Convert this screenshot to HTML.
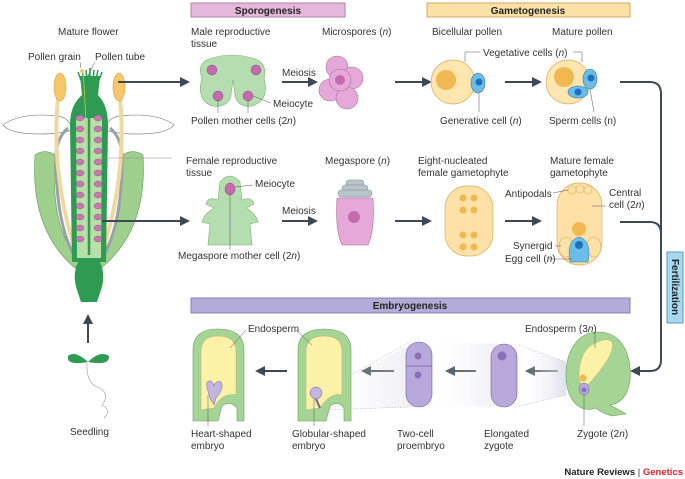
<!DOCTYPE html>
<html><head><meta charset="utf-8"><style>
html,body{margin:0;padding:0;background:#fff}
svg{display:block}
text{font-family:"Liberation Sans",sans-serif;font-size:10px;fill:#333}
.b{font-weight:bold;fill:#222}
</style></head><body>
<svg width="685" height="479" viewBox="0 0 685 479" xmlns="http://www.w3.org/2000/svg">
<defs>
<marker id="ah" viewBox="0 0 10 10" refX="8" refY="5" markerWidth="5" markerHeight="5" orient="auto"><path d="M0,0 L10,5 L0,10 z" fill="#3d4a55"/></marker>
<linearGradient id="fade" x1="1" x2="0" y1="0" y2="0"><stop offset="0" stop-color="#d8d8e8" stop-opacity="0.8"/><stop offset="1" stop-color="#fff" stop-opacity="0"/></linearGradient>
</defs>

<rect x="191" y="3" width="154" height="14" fill="#e4b8da" stroke="#b07fa8"/>
<text x="268" y="14" text-anchor="middle" class="b">Sporogenesis</text>
<rect x="427" y="3" width="203" height="14" fill="#fbe1a6" stroke="#d0a860"/>
<text x="528" y="14" text-anchor="middle" class="b">Gametogenesis</text>
<rect x="191" y="298" width="439" height="15" fill="#b4acd8" stroke="#8a80b8"/>
<text x="410" y="309" text-anchor="middle" class="b">Embryogenesis</text>
<rect x="667" y="252" width="16" height="71" fill="#a6d8ef" stroke="#5a9ac0"/>
<text x="675" y="287" text-anchor="middle" class="b" transform="rotate(90 675 287)" dy="3">Fertilization</text>

<!-- flower -->
<path d="M3,125 Q20,112 58,116 Q70,118 72,130 Q60,134 40,134 Q10,134 3,125z" fill="#fff" stroke="#888" stroke-width="0.7"/>
<path d="M174,125 Q157,112 119,116 Q107,118 105,130 Q117,134 137,134 Q167,134 174,125z" fill="#fff" stroke="#888" stroke-width="0.7"/>
<path d="M35,155 Q30,230 75,268 L80,262 Q50,230 55,155 Q45,148 35,155z" fill="#9fcf8d" stroke="#5a9a50" stroke-width="0.6"/>
<path d="M143,155 Q148,230 101,268 L96,262 Q124,230 123,155 Q133,148 143,155z" fill="#9fcf8d" stroke="#5a9a50" stroke-width="0.6"/>
<path d="M68,128 Q54,140 56,165 Q57,230 78,262" fill="none" stroke="#9aa0a8" stroke-width="3"/>
<path d="M110,128 Q124,140 122,165 Q121,230 100,262" fill="none" stroke="#9aa0a8" stroke-width="3"/>
<path d="M58,98 Q50,180 80,265" fill="none" stroke="#f0d9a0" stroke-width="4"/>
<path d="M120,98 Q128,180 98,265" fill="none" stroke="#f0d9a0" stroke-width="4"/>
<ellipse cx="60" cy="87" rx="6" ry="14" fill="#f7c86a" stroke="#d9a040" stroke-width="0.6"/>
<ellipse cx="119" cy="87" rx="6" ry="14" fill="#f7c86a" stroke="#d9a040" stroke-width="0.6"/>
<path d="M80,76 L100,76 L98,95 Q108,105 108,125 L106,262 L72,262 L70,125 Q70,105 82,95z" fill="#2e9a52"/>
<path d="M76,118 L102,118 L101,258 L77,258z" fill="#b8dfa8"/>
<path d="M78,72 L81,80 M82,70 L84,80 M86,70 L87,80 M90,68 L90,80 M94,70 L93,80 M98,70 L96,80 M102,72 L99,80" stroke="#2e9a52" stroke-width="1.5"/>
<path d="M89,75 L89,255" stroke="#2e9a52" stroke-width="2.5"/>
<path d="M83,72 Q86,110 86,140" stroke="#d9c050" fill="none" stroke-width="0.8"/>
<circle cx="82" cy="71" r="2" fill="#f7c86a"/>
<g fill="#c87ab0" stroke="#7a5070" stroke-width="0.4">
<ellipse cx="80" cy="118" rx="4" ry="3"/><ellipse cx="98" cy="118" rx="4" ry="3"/>
<ellipse cx="80" cy="129" rx="4" ry="3"/><ellipse cx="98" cy="129" rx="4" ry="3"/>
<ellipse cx="80" cy="140" rx="4" ry="3"/><ellipse cx="98" cy="140" rx="4" ry="3"/>
<ellipse cx="80" cy="151" rx="4" ry="3"/><ellipse cx="98" cy="151" rx="4" ry="3"/>
<ellipse cx="80" cy="162" rx="4" ry="3"/><ellipse cx="98" cy="162" rx="4" ry="3"/>
<ellipse cx="80" cy="173" rx="4" ry="3"/><ellipse cx="98" cy="173" rx="4" ry="3"/>
<ellipse cx="80" cy="184" rx="4" ry="3"/><ellipse cx="98" cy="184" rx="4" ry="3"/>
<ellipse cx="80" cy="195" rx="4" ry="3"/><ellipse cx="98" cy="195" rx="4" ry="3"/>
<ellipse cx="80" cy="206" rx="4" ry="3"/><ellipse cx="98" cy="206" rx="4" ry="3"/>
<ellipse cx="80" cy="217" rx="4" ry="3"/><ellipse cx="98" cy="217" rx="4" ry="3"/>
<ellipse cx="80" cy="228" rx="4" ry="3"/><ellipse cx="98" cy="228" rx="4" ry="3"/>
<ellipse cx="80" cy="239" rx="4" ry="3"/><ellipse cx="98" cy="239" rx="4" ry="3"/>
</g>
<path d="M78,262 L100,262 Q106,275 101,290 L97,302 L81,302 L77,290 Q72,275 78,262z" fill="#2e9a52"/>
<text x="58" y="35">Mature flower</text>
<text x="28" y="60">Pollen grain</text>
<text x="95" y="60">Pollen tube</text>
<path d="M80,62 L81,68 M95,62 L88,75" stroke="#555" stroke-width="0.5"/>
<path d="M100,158 L172,158" stroke="#888" stroke-width="0.5"/>
<path d="M88,343 L88,316" stroke="#3d4a55" stroke-width="2" marker-end="url(#ah)"/>
<path d="M88,362 Q75,350 68,356 Q66,366 88,362 Q100,350 109,356 Q110,366 88,362z" fill="#2e9a52"/>
<path d="M87,363 Q86,380 95,386 Q112,392 102,405 Q112,410 104,418" fill="none" stroke="#999" stroke-width="0.6"/>
<text x="70" y="435">Seedling</text>

<g stroke="#3d4a55" stroke-width="2" marker-end="url(#ah)">
<line x1="118" y1="82" x2="188" y2="82"/>
<line x1="282" y1="82" x2="316" y2="82"/>
<line x1="395" y1="82" x2="430" y2="82"/>
<line x1="505" y1="82" x2="540" y2="82"/>
<line x1="102" y1="221" x2="188" y2="221"/>
<line x1="282" y1="221" x2="316" y2="221"/>
<line x1="395" y1="221" x2="430" y2="221"/>
<line x1="505" y1="221" x2="540" y2="221"/>
<line x1="558" y1="371" x2="527" y2="371"/>
<line x1="476" y1="371" x2="447" y2="371"/>
<line x1="394" y1="371" x2="363" y2="371"/>
<line x1="287" y1="371" x2="257" y2="371"/>
</g>
<path d="M620,82 L650,82 Q661,82 661,94 L661,360 Q661,371 650,371 L632,371" fill="none" stroke="#3d4a55" stroke-width="2" marker-end="url(#ah)"/>
<path d="M620,222 L650,222 Q661,222 661,234" fill="none" stroke="#3d4a55" stroke-width="2"/>

<path d="M212,58 Q232,52 252,58 Q268,62 264,78 Q270,100 252,106 Q238,108 235,95 L233,80 L231,95 Q228,108 212,106 Q196,100 202,78 Q196,62 212,58z" fill="#b5deb0" stroke="#7ab070" stroke-width="0.6"/>
<g fill="#c46aae" stroke="#8a4a80" stroke-width="0.5">
<circle cx="212" cy="70" r="5"/><circle cx="256" cy="70" r="5"/><circle cx="218" cy="96" r="5"/><circle cx="248" cy="96" r="5"/></g>
<text x="191" y="35">Male reproductive</text><text x="191" y="47">tissue</text>
<text x="282" y="76">Meiosis</text><text x="273" y="107">Meiocyte</text>
<text x="191" y="124">Pollen mother cells (2<tspan font-style="italic">n</tspan>)</text>
<path d="M218,100 L218,113 M248,100 L248,113 M253,96 L271,103" stroke="#555" stroke-width="0.5"/>
<g fill="#e6a8d8" stroke="#a8709a" stroke-width="0.6">
<circle cx="337" cy="67" r="11"/><circle cx="352" cy="78" r="11"/><circle cx="330" cy="90" r="11"/><circle cx="347" cy="98" r="11"/><circle cx="340" cy="80" r="11"/></g>
<circle cx="340" cy="80" r="5" fill="#c46aae"/>
<text x="322" y="35">Microspores (<tspan font-style="italic">n</tspan>)</text>
<circle cx="453" cy="82" r="22" fill="#fde6b0" stroke="#d8b060" stroke-width="0.7"/>
<circle cx="446" cy="80" r="10" fill="#f0b850"/>
<ellipse cx="478" cy="83" rx="7" ry="10" fill="#6bbce6" stroke="#2a7ab0" stroke-width="0.6"/><circle cx="479" cy="82" r="3.5" fill="#1e70c0"/>
<circle cx="568" cy="82" r="22" fill="#fde6b0" stroke="#d8b060" stroke-width="0.7"/>
<circle cx="564" cy="77" r="10" fill="#f0b850"/>
<ellipse cx="590" cy="79" rx="7" ry="10" fill="#6bbce6" stroke="#2a7ab0" stroke-width="0.6"/><circle cx="591" cy="78" r="3.5" fill="#1e70c0"/>
<ellipse cx="578" cy="92" rx="10" ry="6" fill="#6bbce6" stroke="#2a7ab0" stroke-width="0.6"/><circle cx="578" cy="92" r="3.5" fill="#1e70c0"/>
<text x="432" y="35">Bicellular pollen</text><text x="552" y="35">Mature pollen</text>
<text x="483" y="56">Vegetative cells (<tspan font-style="italic">n</tspan>)</text>
<path d="M465,52 L480,52 M465,52 L465,62 M573,52 L582,52 M582,52 L582,62" stroke="#555" stroke-width="0.5"/>
<text x="440" y="124">Generative cell (<tspan font-style="italic">n</tspan>)</text>
<text x="549" y="124">Sperm cells (n)</text>
<path d="M479,93 L479,112 M590,89 L594,112" stroke="#555" stroke-width="0.5"/>

<path d="M220,182 Q230,170 240,182 L242,200 Q252,196 254,204 L246,208 Q256,214 258,222 L250,224 L252,245 L208,245 L210,224 L202,222 Q204,214 214,208 L206,204 Q208,196 218,200z" fill="#b5deb0" stroke="#7ab070" stroke-width="0.6"/>
<ellipse cx="230" cy="189" rx="5" ry="6" fill="#c46aae" stroke="#8a4a80" stroke-width="0.5"/>
<path d="M230,195 L230,250 M235,187 L253,185" stroke="#555" stroke-width="0.5"/>
<text x="186" y="164">Female reproductive</text><text x="186" y="176">tissue</text>
<text x="255" y="187">Meiocyte</text><text x="282" y="214">Meiosis</text>
<text x="178" y="259">Megaspore mother cell (2<tspan font-style="italic">n</tspan>)</text>
<rect x="346" y="180" width="18" height="6" rx="3" fill="#b8c4c8" stroke="#7a8a90" stroke-width="0.5"/>
<rect x="342" y="185" width="26" height="6" rx="3" fill="#b8c4c8" stroke="#7a8a90" stroke-width="0.5"/>
<rect x="338" y="190" width="34" height="7" rx="3" fill="#b8c4c8" stroke="#7a8a90" stroke-width="0.5"/>
<path d="M337,198 L373,198 Q375,230 368,245 L342,245 Q335,230 337,198z" fill="#e6a8d8" stroke="#a8709a" stroke-width="0.6"/>
<circle cx="354" cy="217" r="6" fill="#c46aae"/>
<text x="325" y="164">Megaspore (<tspan font-style="italic">n</tspan>)</text>
<rect x="445" y="186" width="48" height="70" rx="22" fill="#fde1a6" stroke="#d8b060" stroke-width="0.7"/>
<g fill="#f0b850"><circle cx="463" cy="198" r="3.5"/><circle cx="474" cy="198" r="3.5"/><circle cx="463" cy="210" r="3.5"/><circle cx="474" cy="210" r="3.5"/><circle cx="463" cy="235" r="3.5"/><circle cx="474" cy="235" r="3.5"/><circle cx="463" cy="247" r="3.5"/><circle cx="474" cy="247" r="3.5"/></g>
<text x="418" y="164">Eight-nucleated</text><text x="418" y="176">female gametophyte</text>
<rect x="557" y="183" width="45" height="82" rx="22" fill="#fde1a6" stroke="#d8b060" stroke-width="0.7"/>
<g fill="#fde1a6" stroke="#d8b060" stroke-width="0.6"><circle cx="572" cy="190" r="4"/><circle cx="580" cy="189" r="4"/><circle cx="588" cy="190" r="4"/>
<ellipse cx="566" cy="247" rx="7" ry="10"/><ellipse cx="594" cy="247" rx="7" ry="10"/></g>
<circle cx="579" cy="229" r="7" fill="#f0b850"/>
<path d="M570,262 Q566,240 579,237 Q592,240 588,262z" fill="#6bbce6" stroke="#2a7ab0" stroke-width="0.5"/>
<circle cx="579" cy="245" r="4" fill="#1e70c0"/>
<text x="550" y="164">Mature female</text><text x="550" y="176">gametophyte</text>
<text x="505" y="197">Antipodals</text>
<text x="609" y="196">Central</text><text x="609" y="208">cell (2<tspan font-style="italic">n</tspan>)</text>
<text x="513" y="249">Synergid</text><text x="505" y="262">Egg cell (<tspan font-style="italic">n</tspan>)</text>
<path d="M553,193 L568,190 M592,206 L606,206 M555,246 L561,246 M549,259 L572,259" stroke="#555" stroke-width="0.5"/>

<path d="M519,345 L566,362 L566,395 L519,406z" fill="url(#fade)"/>
<path d="M426,342 L503,344 L503,406 L426,407z" fill="url(#fade)" opacity="0.6"/>
<path d="M315,395 L415,342 L415,407 L320,410z" fill="url(#fade)" opacity="0.6"/>
<path d="M519,345 L566,362 M519,406 L566,395 M315,395 L410,342 M320,410 L410,407" stroke="#999" stroke-width="0.5" stroke-dasharray="1,1.5"/>
<path d="M598,332 C625,332 632,360 630,380 C628,398 618,404 610,405 L626,414 L612,416 Q600,412 596,408 C580,414 566,400 566,375 C566,350 578,332 598,332z" fill="#a5d495" stroke="#6aa060" stroke-width="0.6"/>
<path d="M590,346 Q606,336 612,342 Q616,352 594,378 Q584,392 579,380 Q578,356 590,346z" fill="#fbf2a8" stroke="#b8b070" stroke-width="0.5"/>
<circle cx="583" cy="378" r="3.5" fill="#f0b850"/>
<ellipse cx="584" cy="389" rx="5" ry="6" fill="#b8a8dc" stroke="#7060a0" stroke-width="0.5"/>
<circle cx="584" cy="390" r="2.5" fill="#8a70b8"/>
<text x="525" y="332">Endosperm (3<tspan font-style="italic">n</tspan>)</text>
<path d="M595,334 L595,348 M584,395 L584,426" stroke="#555" stroke-width="0.5"/>
<text x="577" y="437">Zygote (2<tspan font-style="italic">n</tspan>)</text>
<rect x="491" y="344" width="26" height="63" rx="13" fill="#b8a8dc" stroke="#7060a0" stroke-width="0.6"/>
<circle cx="502" cy="356" r="4.5" fill="#8a70b8"/>
<text x="484" y="437">Elongated</text><text x="484" y="449">zygote</text>
<rect x="406" y="342" width="26" height="65" rx="13" fill="#b8a8dc" stroke="#7060a0" stroke-width="0.6"/>
<line x1="406" y1="366" x2="432" y2="366" stroke="#7060a0" stroke-width="0.7"/>
<circle cx="418" cy="356" r="3.5" fill="#8a70b8"/><circle cx="418" cy="375" r="3.5" fill="#8a70b8"/>
<text x="397" y="437">Two-cell</text><text x="397" y="449">proembryo</text>
<path d="M298,421 L298,350 Q298,329 324,329 Q351,329 351,350 L351,421 L344,421 L344,408 Q338,400 330,406 L326,421z" fill="#a5d495" stroke="#6aa060" stroke-width="0.6"/>
<path d="M306,410 L306,352 Q306,336 324,336 Q342,336 342,352 L342,395 Q330,392 320,408z" fill="#fbf2a8" stroke="#b8b070" stroke-width="0.5"/>
<circle cx="316" cy="393" r="6" fill="#c4b4e0" stroke="#7060a0" stroke-width="0.5"/>
<path d="M316,399 L320,408" stroke="#7060a0" stroke-width="2"/>
<text x="292" y="437">Globular-shaped</text><text x="292" y="449">embryo</text>
<path d="M314,398 L314,426" stroke="#555" stroke-width="0.5"/>
<path d="M193,421 L193,350 Q193,329 218,329 Q244,329 244,350 L244,421 L237,421 L237,408 Q230,400 222,406 L218,421z" fill="#a5d495" stroke="#6aa060" stroke-width="0.6"/>
<path d="M201,410 L201,352 Q201,336 218,336 Q236,336 236,352 L236,395 Q222,392 214,408z" fill="#fbf2a8" stroke="#b8b070" stroke-width="0.5"/>
<path d="M208,391 Q204,380 211,381 Q214,383 214,386 Q216,380 221,382 Q225,388 216,398 L214,405 Q210,400 208,391z" fill="#c4b4e0" stroke="#7060a0" stroke-width="0.5"/>
<path d="M208,395 L208,426" stroke="#555" stroke-width="0.5"/>
<text x="191" y="437">Heart-shaped</text><text x="191" y="449">embryo</text>
<text x="248" y="332">Endosperm</text>
<path d="M246,330 L230,348 M296,330 L312,345" stroke="#555" stroke-width="0.5"/>

<text x="683" y="475" text-anchor="end" class="b" style="font-size:9.5px">Nature Reviews <tspan fill="#333" font-weight="normal">|</tspan> <tspan fill="#d8232a">Genetics</tspan></text>
</svg>
</body></html>
